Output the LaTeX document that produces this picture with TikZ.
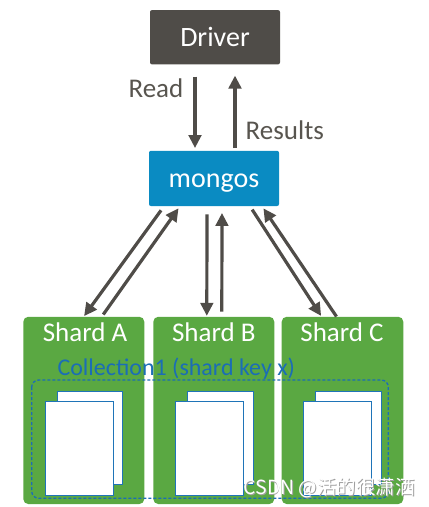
\documentclass[tikz,border=0pt]{standalone}
\usepackage{fontspec}
\setmainfont{Carlito}
\newfontfamily\cjkwm{Noto Sans CJK SC}
\usetikzlibrary{arrows.meta}
\definecolor{drvgray}{HTML}{4F4C48}
\definecolor{mgblue}{HTML}{0A8BC2}
\definecolor{shgreen}{HTML}{5AA842}
\definecolor{arrgray}{HTML}{4F4C48}
\definecolor{txtgray}{HTML}{58554F}
\definecolor{colblue}{HTML}{1B6DB6}
\definecolor{pgblue}{HTML}{1F74B8}
\tikzset{
  topbox/.style={rounded corners=2pt, inner sep=0pt, text=white, font=\fontsize{28}{30}\selectfont, text height=18pt, text depth=0pt},
  shardbox/.style={fill=shgreen, rounded corners=5pt, minimum width=121pt, minimum height=187.3pt, inner sep=0pt},
  shardlabel/.style={text=white, font=\fontsize{27}{29}\selectfont, inner sep=0pt, text height=18pt, text depth=0pt},
  flow/.style={draw=arrgray, line width=3.2pt, -{Triangle[length=13pt,width=12.5pt]}},
  lbl/.style={text=txtgray, font=\fontsize{27}{29}\selectfont, inner sep=0pt, text height=18pt, text depth=0pt},
  page/.style={draw=pgblue, line width=1pt, fill=white, inner sep=0pt},
}
\begin{document}
\begin{tikzpicture}[x=1pt,y=-1pt]
\useasboundingbox (0,0) rectangle (429,507);
% top boxes
\node[topbox, fill=drvgray, minimum width=130pt, minimum height=54.3pt] (driver) at (215,37.2) {Driver};
\node[topbox, fill=mgblue, minimum width=130pt, minimum height=55.3pt] (mongos) at (214,178.4) {mongos};
% read / results
\draw[flow, shorten <=12pt, shorten >=2.5pt] ([xshift=-20pt]driver.south) -- ([xshift=-20pt]driver.south |- mongos.north);
\draw[flow, shorten <=2.5pt, shorten >=11pt] ([xshift=21pt]mongos.north) -- ([xshift=21pt]mongos.north |- driver.south);
\node[lbl, anchor=east] (read) at (183.5,88) {Read};
\node[lbl, anchor=west] (results) at (245.5,130) {Results};
% shards
\node[shardbox] (shA) at (83.8,410.4) {};
\node[shardbox] (shB) at (213.8,410.4) {};
\node[shardbox, minimum width=121.6pt] (shC) at (342.5,410.4) {};
\node[shardlabel] (lA) at (85,332.7) {Shard A};
\node[shardlabel] (lB) at (213.8,332.7) {Shard B};
\node[shardlabel] (lC) at (342,332.7) {Shard C};
% mongos <-> shards
\draw[flow, shorten <=5pt, shorten >=0.5pt] ([xshift=-50pt]mongos.south) -- (shA.north);
\draw[flow, shorten <=2.5pt, shorten >=2.5pt] ([xshift=18pt]shA.north) -- ([xshift=-34pt]mongos.south);
\draw[flow, shorten <=8pt, shorten >=0.7pt] ([xshift=-7pt]mongos.south) -- ([xshift=-7pt]shB.north);
\draw[flow, shorten <=5pt, shorten >=6.7pt] ([xshift=8pt]shB.north) -- ([xshift=8pt]mongos.south);
\draw[flow, shorten <=4pt, shorten >=0.7pt] ([xshift=36pt]mongos.south) -- ([xshift=-21pt]shC.north);
\draw[flow, shorten <=0pt, shorten >=2.5pt] ([xshift=-6pt]shC.north) -- ([xshift=48pt]mongos.south);
% collection
\node[text=colblue, font=\fontsize{24}{26}\selectfont, inner sep=0pt, anchor=west] (coll) at (57.3,368.3) {Collection1 (shard key x)};
\draw[colblue, line width=1.3pt, dash pattern=on 3pt off 2pt, rounded corners=7pt] (31.7,380) rectangle (388.3,498.3);
% pages
\node[page, minimum width=65.4pt, minimum height=93pt] (pA2) at (90,437.5) {};
\node[page, minimum width=68pt, minimum height=94.7pt] (pA1) at (79.3,448.4) {};
\node[page, minimum width=66pt, minimum height=93pt] (pB2) at (220.3,437.5) {};
\node[page, minimum width=68.3pt, minimum height=94.7pt] (pB1) at (209.2,448.4) {};
\node[page, minimum width=66pt, minimum height=93pt] (pC2) at (348,437.5) {};
\node[page, minimum width=68.4pt, minimum height=94.7pt] (pC1) at (337.5,448.4) {};
% watermark
\node[text=gray!75, font=\cjkwm\fontsize{19.5}{21}\selectfont, inner sep=0pt, anchor=west] (wm0) at (244.2,488.8) {CSDN @活的很潇洒};
\node[text=white, font=\cjkwm\fontsize{19.5}{21}\selectfont, inner sep=0pt, anchor=west] (wm) at (243.3,488) {CSDN @活的很潇洒};
\end{tikzpicture}
\end{document}
